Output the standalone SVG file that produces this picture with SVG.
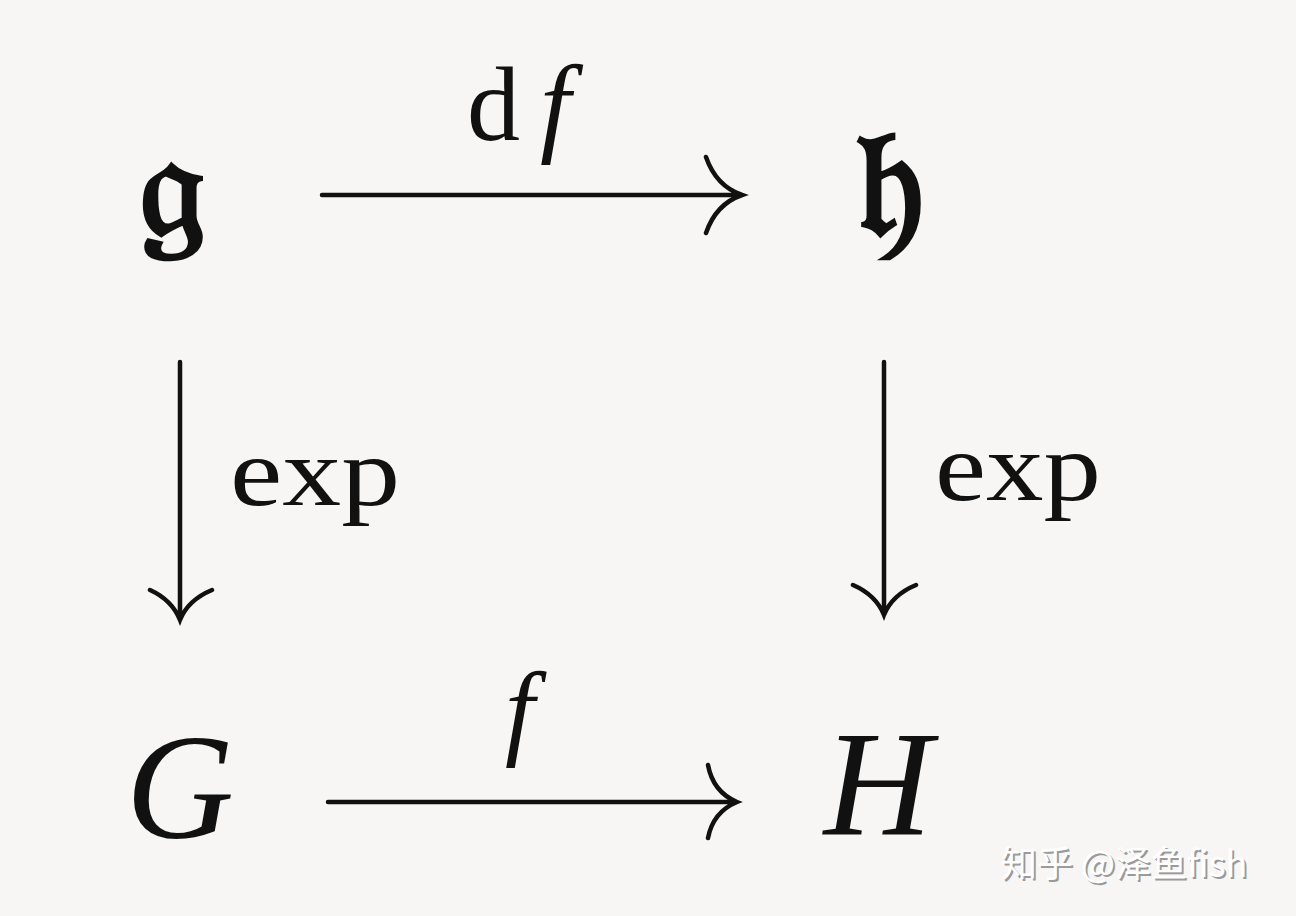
<svg xmlns="http://www.w3.org/2000/svg" width="1296" height="916" viewBox="0 0 1296 916">
<style>
.m{font-family:'Liberation Serif','DejaVu Serif',serif;fill:#111}
.i{font-style:italic}
.fr{font-family:'DejaVu Serif','DejaVu Sans',serif;fill:#111;font-weight:bold}
.ar{fill:none;stroke:#111;stroke-width:4.5;stroke-linecap:round}
.wm{font-family:'Noto Sans CJK SC','Noto Sans',sans-serif;font-size:36px}
</style>
<rect width="1296" height="916" fill="#f8f6f5"/>
<g id="node-g"><text class="fr" x="172" y="236" font-size="150" text-anchor="middle">𝔤</text></g>
<g id="node-h"><text class="fr" x="890" y="234" font-size="150" text-anchor="middle">𝔥</text></g>
<g id="node-G"><text class="m i" x="180" y="838" font-size="150" text-anchor="middle">G</text></g>
<g id="node-H"><text class="m i" x="878" y="834" font-size="150" text-anchor="middle">H</text></g>
<g id="connectors">
<path class="ar" d="M322,195 H742 M706,157 Q716,186 742,195 Q716,204 706,233"/>
<path class="ar" d="M180,362 V620 M150,590 Q172,600 180,620 Q188,600 212,590"/>
<path class="ar" d="M884,362 V615 M853,585 Q876,595 884,615 Q892,595 916,585"/>
<path class="ar" d="M328,802 H737 M708,765 Q713,792 737,802 Q713,812 708,838"/>
<text class="m" x="467" y="140" font-size="106">d</text>
<text class="m i" x="540" y="142" font-size="110">f</text>
<text class="m" x="230" y="505" font-size="98" textLength="170" lengthAdjust="spacingAndGlyphs">exp</text>
<text class="m" x="935" y="500" font-size="98" textLength="166" lengthAdjust="spacingAndGlyphs">exp</text>
<text class="m i" x="505" y="745" font-size="106">f</text>
</g>
<g id="watermark">
<text class="wm" x="1003" y="879" fill="#9a9a9a">知乎 @泽鱼fish</text>
<text class="wm" x="1001" y="877" fill="#ffffff">知乎 @泽鱼fish</text>
</g>
</svg>
